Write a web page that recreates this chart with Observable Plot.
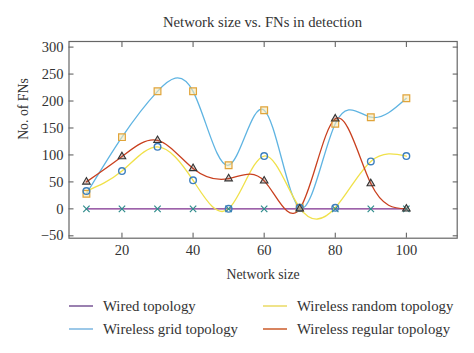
<!DOCTYPE html>
<html>
<head>
<meta charset="utf-8">
<script src="https://cdn.jsdelivr.net/npm/d3@7"></script>
<script src="https://cdn.jsdelivr.net/npm/@observablehq/plot@0.6"></script>
<style>
  body { margin: 0; background: #fff; font-family: "Liberation Serif", serif; color: #333; }
  #wrap { width: 474px; }
  #title { height: 33px; position: relative; }
  #title span { position: absolute; left: 68.5px; width: 388px; text-align: center; top: 14px; font-size: 14.7px; line-height: 17px; }
  #legend { position: relative; height: 68px; font-size: 14.8px; }
  .item { position: absolute; display: flex; align-items: center; height: 20px; }
  .swatch { width: 24px; height: 1.5px; margin-right: 10px; }
</style>
</head>
<body>
<div id="wrap">
  <div id="title"><span>Network size vs. FNs in detection</span></div>
  <div id="chart"></div>
  <div id="legend"></div>
</div>
<script>
const sizes = [10, 20, 30, 40, 50, 60, 70, 80, 90, 100];
const wired = [0, 0, 0, 0, 0, 0, 0, 0, 0, 0];
const grid = [28, 133, 218, 218, 81, 183, 2, 158, 170, 205];
const random = [33, 70, 115, 53, 0, 98, 2, 2, 88, 98];
const regular = [50, 97, 127, 75, 56, 52, 0, 167, 47, 0];
const seriesNames = ["Wired topology", "Wireless grid topology", "Wireless random topology", "Wireless regular topology"];
const xTicks = [20, 40, 60, 80, 100];
const yTicks = [-50, 0, 50, 100, 150, 200, 250, 300];
const xLabel = "Network size";
const yLabel = "No. of FNs";

const lineColors = ["#7E2F8E", "#5FB4E2", "#F0E14A", "#C9401F"];
const legendColors = ["#9A80B0", "#9CC8E8", "#EFE38A", "#D8845F"];

const tbl = (vals) => sizes.map((x, i) => ({x, y: vals[i]}));
const dWired = tbl(wired), dGrid = tbl(grid), dRandom = tbl(random), dRegular = tbl(regular);

const chart = Plot.plot({
  width: 474,
  height: 252,
  marginTop: 8,
  marginLeft: 68.5,
  marginRight: 17.3,
  marginBottom: 47.3,
  x: {domain: [5.1, 114.3]},
  y: {domain: [-54.4, 310.4]},
  style: {fontFamily: "Liberation Serif, serif", fontSize: "14.5px", color: "#333", background: "#fff"},
  marks: [
    Plot.axisX({ticks: xTicks, tickSize: -5, tickPadding: 12, label: null, stroke: "#555"}),
    Plot.axisX({anchor: "top", ticks: xTicks, tickSize: -5, tickFormat: () => "", label: null, stroke: "#555"}),
    Plot.axisY({ticks: yTicks, tickSize: -5, tickPadding: 10.5, label: null, stroke: "#555"}),
    Plot.axisY({anchor: "right", ticks: yTicks, tickSize: -5, tickFormat: () => "", label: null, stroke: "#555"}),
    Plot.text([xLabel], {text: d => d, frameAnchor: "bottom", dy: 40.5, fontSize: 13.8, fill: "#333"}),
    Plot.text([yLabel], {text: d => d, frameAnchor: "left", dx: -45.5, rotate: -90, fontSize: 13.8, fill: "#333"}),
    Plot.line(dWired, {x: "x", y: "y", stroke: lineColors[0], strokeWidth: 1.3}),
    Plot.line(dGrid, {x: "x", y: "y", stroke: lineColors[1], strokeWidth: 1.3, curve: "natural"}),
    Plot.line(dRandom, {x: "x", y: "y", stroke: lineColors[2], strokeWidth: 1.3, curve: "natural"}),
    Plot.line(dRegular, {x: "x", y: "y", stroke: lineColors[3], strokeWidth: 1.3, curve: "natural"}),
    Plot.dot(dWired, {x: "x", y: "y", symbol: "times", r: 3, stroke: "#2F8C8C", strokeWidth: 1.2}),
    Plot.dot(dGrid, {x: "x", y: "y", symbol: "square", r: 3.8, stroke: "#E0A43A", fill: "#F6E7B8", fillOpacity: 0.6, strokeWidth: 1.2}),
    Plot.dot(dRandom, {x: "x", y: "y", symbol: "circle", r: 3.3, stroke: "#3C7FBE", strokeWidth: 1.4}),
    Plot.dot(dRegular, {x: "x", y: "y", symbol: "triangle", r: 2.8, stroke: "#333", fill: "#8B4A3A", fillOpacity: 0.3, strokeWidth: 1.1}),
    Plot.frame({stroke: "#666", strokeWidth: 1.2})
  ]
});
document.getElementById("chart").appendChild(chart);

const legend = document.getElementById("legend");
const pos = [[69, 11], [69, 34], [263, 11], [263, 34]];
[0, 1, 2, 3].forEach((k) => {
  const el = document.createElement("div");
  el.className = "item";
  el.style.left = pos[k][0] + "px";
  el.style.top = pos[k][1] + "px";
  const sw = document.createElement("div");
  sw.className = "swatch";
  sw.style.background = legendColors[k];
  const tx = document.createElement("span");
  tx.textContent = seriesNames[k];
  el.appendChild(sw); el.appendChild(tx);
  legend.appendChild(el);
});
</script>
</body>
</html>
